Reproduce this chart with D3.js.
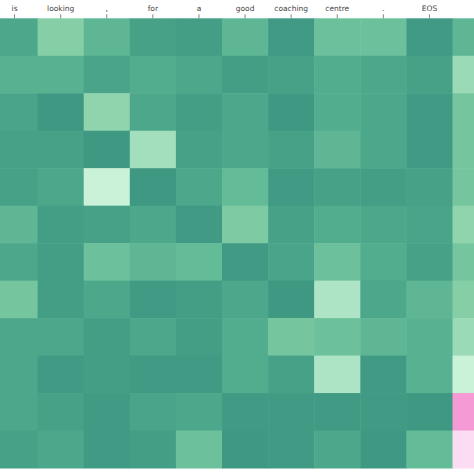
<!DOCTYPE html>
<html>
<head>
<meta charset="utf-8">
<script src="https://cdn.jsdelivr.net/npm/d3@7"></script>
<style>
html,body{margin:0;padding:0;background:#fff;overflow:hidden;}
svg{display:block;}
</style>
</head>
<body>
<svg id="chart" width="474" height="474"></svg>
<script>
// column tokens (last column is cut off at the right edge, its label is not visible)
const columns = ["is","looking",",","for","a","good","coaching","centre",".","EOS",""];
const rows = [0,1,2,3,4,5,6,7,8,9,10,11];

// cell values (positive = green, negative = pink)
const row0  = [0.76,0.44,0.64,0.84,0.88,0.64,0.92,0.56,0.56,0.92,0.64];
const row1  = [0.68,0.68,0.80,0.72,0.76,0.88,0.84,0.72,0.76,0.84,0.36];
const row2  = [0.80,0.96,0.40,0.76,0.88,0.76,0.96,0.72,0.76,0.92,0.52];
const row3  = [0.84,0.84,0.96,0.32,0.84,0.76,0.84,0.64,0.76,0.92,0.52];
const row4  = [0.84,0.76,0.20,0.96,0.76,0.60,0.92,0.84,0.88,0.84,0.52];
const row5  = [0.64,0.88,0.84,0.76,0.92,0.48,0.84,0.72,0.76,0.80,0.40];
const row6  = [0.76,0.88,0.56,0.64,0.60,0.92,0.80,0.56,0.72,0.84,0.52];
const row7  = [0.52,0.88,0.76,0.92,0.88,0.76,0.96,0.28,0.76,0.64,0.44];
const row8  = [0.76,0.76,0.88,0.76,0.88,0.72,0.52,0.56,0.64,0.68,0.36];
const row9  = [0.76,0.92,0.88,0.92,0.92,0.72,0.84,0.28,0.92,0.68,0.20];
const row10 = [0.76,0.84,0.92,0.80,0.76,0.92,0.92,0.92,0.92,0.96,-0.50];
const row11 = [0.84,0.76,0.92,0.88,0.56,0.96,0.92,0.76,0.96,0.60,-0.15];
const matrix = [row0,row1,row2,row3,row4,row5,row6,row7,row8,row9,row10,row11];

const svg = d3.select("#chart");
const W = 474, H = 474;

const colW = 46.1;
const x0 = -8.5;
const x = d3.scaleBand()
  .domain(d3.range(columns.length))
  .range([x0, x0 + colW * columns.length])
  .padding(0);

const y = d3.scaleBand()
  .domain(rows)
  .range([18.3, 468])
  .padding(0);

const color = d3.scaleLinear()
  .domain([-1, -0.5, -0.15, 0, 0.2, 0.28, 0.44, 0.6, 0.76, 1])
  .range(["#d9409e","#f59ad4","#fbdcf2","#f5f8f6","#c9f2d8","#ade4c5","#86cfa6","#64bb97","#4ca78b","#3b9580"])
  .interpolate(d3.interpolateRgb);

const cells = [];
matrix.forEach((r, i) => r.forEach((v, j) => cells.push({row: rows[i], col: j, v})));

svg.append("defs").append("clipPath").attr("id","clip")
  .append("rect").attr("x",0).attr("y",0).attr("width",W).attr("height",H);

svg.append("g").attr("clip-path","url(#clip)")
  .selectAll("rect").data(cells).join("rect")
  .attr("x", d => x(d.col))
  .attr("y", d => y(d.row))
  .attr("width", x.bandwidth() + 0.5)
  .attr("height", y.bandwidth() + 0.5)
  .attr("fill", d => color(d.v));

const axis = d3.axisTop(x)
  .tickSize(4)
  .tickPadding(3)
  .tickFormat(i => columns[i]);

const gx = svg.append("g")
  .attr("transform", `translate(0,${18.3})`)
  .call(axis);
gx.select(".domain").remove();
gx.selectAll(".tick line").attr("stroke","#666").attr("stroke-width",0.8);
gx.selectAll(".tick text")
  .attr("fill","#444")
  .style("font-family","DejaVu Sans, sans-serif")
  .style("font-size","7.5px");
</script>
</body>
</html>
